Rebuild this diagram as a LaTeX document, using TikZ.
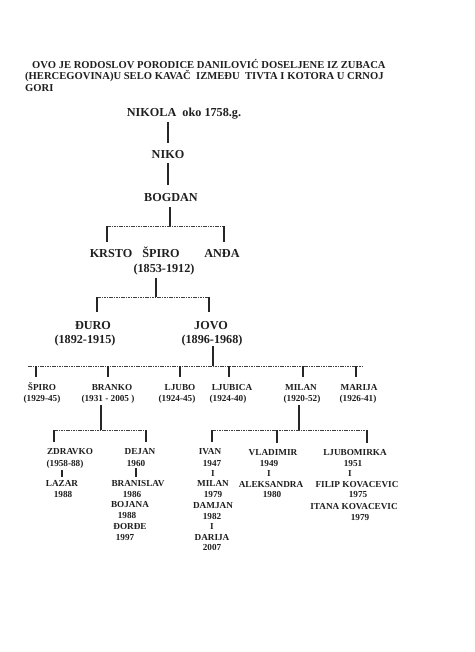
\documentclass[tikz,border=0pt]{standalone}
\usepackage{fontspec}
\setmainfont{Liberation Serif}
\begin{document}
\begin{tikzpicture}[x=1pt,y=-1pt,
  big/.style={font=\fontsize{12.2}{14}\selectfont\bfseries, text=black!88, inner sep=0pt, anchor=base},
  small/.style={font=\fontsize{9.2}{11}\selectfont\bfseries, text=black!88, inner sep=0pt, anchor=base},
  ttl/.style={font=\fontsize{10.6}{12}\selectfont\bfseries, text=black!88, inner sep=0pt, anchor=base west},
  stem/.style={line width=1.8pt, black!85},
  drop/.style={line width=1.2pt, black!85},
  bar/.style={line width=0.6pt, black!75, dash pattern=on 1.6pt off 0.8pt},
]
\useasboundingbox[fill=white] (0,0) rectangle (474,652);

% title
\node[ttl] (t1) at (32,68.5) {OVO JE RODOSLOV PORODICE DANILOVIĆ DOSELJENE IZ ZUBACA};
\node[ttl] (t2) at (25,80) {(HERCEGOVINA)U SELO KAVAČ\ \ IZMEĐU\ \ TIVTA I KOTORA U CRNOJ};
\node[ttl] (t3) at (25,91.5) {GORI};

% upper generations
\node[big] (nikola) at (184,117) {NIKOLA\ \ oko 1758.g.};
\node[big] (niko) at (168,159) {NIKO};
\node[big] (bogdan) at (171,201) {BOGDAN};
\node[big] (krsto) at (111,257) {KRSTO};
\node[big] (spiro) at (161,257) {ŠPIRO};
\node[big] (anda) at (222,257) {ANĐA};
\node[big] (spirod) at (164,272) {(1853-1912)};
\node[big] (duro) at (93,329) {ĐURO};
\node[big] (durod) at (85,343) {(1892-1915)};
\node[big] (jovo) at (211,329) {JOVO};
\node[big] (jovod) at (212,343) {(1896-1968)};

% generation 5
\node[small] (g5spiro) at (42,390) {ŠPIRO};
\node[small] (g5spirod) at (42,401) {(1929-45)};
\node[small] (branko) at (112,390) {BRANKO};
\node[small] (brankod) at (108,401) {(1931 - 2005 )};
\node[small] (ljubo) at (180,390) {LJUBO};
\node[small] (ljubod) at (177,401) {(1924-45)};
\node[small] (ljubica) at (232,390) {LJUBICA};
\node[small] (ljubicad) at (228,401) {(1924-40)};
\node[small] (milan) at (301,390) {MILAN};
\node[small] (milend) at (302,401) {(1920-52)};
\node[small] (marija) at (359,390) {MARIJA};
\node[small] (marijad) at (358,401) {(1926-41)};

% generation 6 - Branko's line
\node[small] (zdravko) at (70,454) {ZDRAVKO};
\node[small] (zdravkod) at (65,466) {(1958-88)};
\node[small] (lazar) at (62,486) {LAZAR};
\node[small] (lazard) at (63,497) {1988};
\node[small] (dejan) at (140,454) {DEJAN};
\node[small] (dejand) at (136,466) {1960};
\node[small] (branislav) at (138,486) {BRANISLAV};
\node[small] (branislavd) at (132,497) {1986};
\node[small] (bojana) at (130,507) {BOJANA};
\node[small] (bojanad) at (127,518) {1988};
\node[small] (dorde) at (130,529) {ĐORĐE};
\node[small] (dorded) at (125,540) {1997};

% generation 6 - Milan's line
\node[small] (ivan) at (210,454) {IVAN};
\node[small] (ivand) at (212,466) {1947};
\node[small] (ivani) at (213,476) {I};
\node[small] (milan2) at (213,486) {MILAN};
\node[small] (milan2d) at (213,497) {1979};
\node[small] (damjan) at (213,508) {DAMJAN};
\node[small] (damjand) at (212,519) {1982};
\node[small] (damjani) at (212,529) {I};
\node[small] (darija) at (212,540) {DARIJA};
\node[small] (darijad) at (212,550) {2007};

\node[small] (vladimir) at (273,455) {VLADIMIR};
\node[small] (vladimird) at (269,466) {1949};
\node[small] (vladimiri) at (269,476) {I};
\node[small] (aleksandra) at (271,487) {ALEKSANDRA};
\node[small] (aleksandrad) at (272,497) {1980};

\node[small] (ljubomirka) at (355,455) {LJUBOMIRKA};
\node[small] (ljubomirkad) at (353,466) {1951};
\node[small] (ljubomirkai) at (350,476) {I};
\node[small] (filip) at (357,487) {FILIP KOVACEVIC};
\node[small] (filipd) at (358,497) {1975};
\node[small] (itana) at (354,509) {ITANA KOVACEVIC};
\node[small] (itanad) at (360,520) {1979};

% junction coordinates
\coordinate (j1) at (170,226); \coordinate (j1l) at (107,226); \coordinate (j1r) at (224,226);
\coordinate (j2) at (156,297); \coordinate (j2l) at (97,297); \coordinate (j2r) at (209,297);
\coordinate (j3) at (213,366); \coordinate (j3l) at (28,366); \coordinate (j3r) at (363,366);
\coordinate (d31) at (36,366); \coordinate (d32) at (108,366); \coordinate (d33) at (180,366);
\coordinate (d34) at (229,366); \coordinate (d35) at (303,366); \coordinate (d36) at (356,366);
\coordinate (j4) at (101,430); \coordinate (j4l) at (54,430); \coordinate (j4r) at (146,430);
\coordinate (j5) at (299,430); \coordinate (j5l) at (212,430); \coordinate (j5m) at (277,430); \coordinate (j5r) at (367,430);

% connectors
\draw[stem, shorten <=2.5pt, shorten >=8pt] (nikola.south -| niko.north) -- (niko.north);
\draw[stem, shorten <=4pt, shorten >=8pt] (niko.south) -- (niko.south |- bogdan.north);

\draw[stem, shorten <=6pt] (bogdan.south -| j1) -- (j1);
\draw[bar] (j1l) -- (j1r);
\draw[drop, shorten >=7pt] (j1l) -- (j1l |- krsto.north);
\draw[drop, shorten >=7pt] (j1r) -- (j1r |- anda.north);

\draw[stem, shorten <=3.5pt] (spirod.south -| j2) -- (j2);
\draw[bar] (j2l) -- (j2r);
\draw[drop, shorten >=9pt] (j2l) -- (j2l |- duro.north);
\draw[drop, shorten >=9pt] (j2r) -- (j2r |- jovo.north);

\draw[stem, shorten <=0.5pt] (jovod.south -| j3) -- (j3);
\draw[bar] (j3l) -- (j3r);
\draw[drop, shorten >=5pt] (d31) -- (d31 |- g5spiro.north);
\draw[drop, shorten >=7pt] (d32) -- (d32 |- branko.north);
\draw[drop, shorten >=7pt] (d33) -- (d33 |- ljubo.north);
\draw[drop, shorten >=7pt] (d34) -- (d34 |- ljubica.north);
\draw[drop, shorten >=7pt] (d35) -- (d35 |- milan.north);
\draw[drop, shorten >=7pt] (d36) -- (d36 |- marija.north);

\draw[stem, shorten <=2pt] (brankod.south -| j4) -- (j4);
\draw[bar] (j4l) -- (j4r);
\draw[drop, shorten >=6pt] (j4l) -- (j4l |- zdravko.north);
\draw[drop, shorten >=6pt] (j4r) -- (j4r |- dejan.north);

\draw[stem, shorten <=2pt] (milend.south -| j5) -- (j5);
\draw[bar] (j5l) -- (j5r);
\draw[drop, shorten >=6pt] (j5l) -- (j5l |- ivan.north);
\draw[drop, shorten >=6pt] (j5m) -- (j5m |- vladimir.north);
\draw[drop, shorten >=6pt] (j5r) -- (j5r |- ljubomirka.north);

\draw[stem, shorten <=2pt, shorten >=3pt] (zdravkod.south -| lazar.north) -- (lazar.north);
\draw[stem, shorten <=2pt, shorten >=3pt] (dejand.south) -- (dejand.south |- branislav.north);
\end{tikzpicture}
\end{document}
